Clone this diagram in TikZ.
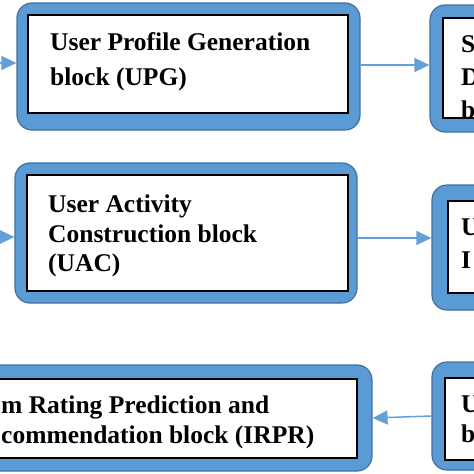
\documentclass[tikz,border=0pt]{standalone}
\usepackage{fontspec}
\setmainfont{Liberation Serif}
\usetikzlibrary{arrows.meta}
\definecolor{blockBlue}{RGB}{91,155,213}
\definecolor{blockEdge}{RGB}{65,113,156}
\definecolor{arrowBlue}{RGB}{100,160,215}
\tikzstyle{outerBlock}=[shape = rectangle, rounded corners = 15pt, draw = blockEdge, line width = 1.2pt, fill = blockBlue, inner sep = 0pt]
\tikzstyle{innerBlock}=[shape = rectangle, draw = black, line width = 1.4pt, fill = white, inner sep = 0pt]
\tikzstyle{blockText}=[anchor = west, inner sep = 0pt, align = left, font = \bfseries\fontsize{25.5}{35}\selectfont]
\tikzstyle{flowArrow}=[draw = arrowBlue, line width = 1.5pt, -{Triangle[length = 15pt, width = 14pt, fill = arrowBlue]}]

\begin{document}
\begin{tikzpicture}[x = 1pt, y = -1pt]
\useasboundingbox (0,0) rectangle (474,474);
\clip (0,0) rectangle (474,474);
% outer frames
\node[outerBlock, minimum width = 343pt, minimum height = 127pt] (upgOuter) at (188.5,66.5) {};
\node[outerBlock, minimum width = 270pt, minimum height = 127pt] (sdbOuter) at (565,68.5) {};
\node[outerBlock, minimum width = 342pt, minimum height = 140pt] (uacOuter) at (186,233) {};
\node[outerBlock, minimum width = 268pt, minimum height = 125pt] (uiOuter) at (566,247.5) {};
\node[outerBlock, minimum width = 412pt, minimum height = 106pt] (irprOuter) at (166,418) {};
\node[outerBlock, minimum width = 268pt, minimum height = 108pt] (ubOuter) at (566,416) {};
% inner boxes
\node[innerBlock, minimum width = 320pt, minimum height = 98pt] (upg) at (188,64) {};
\node[innerBlock, minimum width = 257pt, minimum height = 100pt] (sdb) at (571.5,68) {};
\node[innerBlock, minimum width = 321pt, minimum height = 116pt] (uac) at (187.5,233) {};
\node[innerBlock, minimum width = 252pt, minimum height = 92pt] (ui) at (574,247) {};
\node[innerBlock, minimum width = 385pt, minimum height = 79pt] (irpr) at (164.5,418.5) {};
\node[innerBlock, minimum width = 255pt, minimum height = 82pt] (ub) at (572.5,419) {};
% texts
\node[blockText] (upgText) at (50,61.5) {User Profile Generation\\block (UPG)};
\node[blockText, font = \bfseries\fontsize{25.5}{33}\selectfont] (sdbText) at (461,77) {S\\D\\b};
\node[blockText, font = \bfseries\fontsize{25.5}{29.5}\selectfont] (uacText) at (48,236) {User Activity\\Construction block\\(UAC)};
\node[blockText, font = \bfseries\fontsize{25.5}{33}\selectfont] (uiText) at (461,243.5) {U\\I};
\node[blockText, font = \bfseries\fontsize{25.5}{30}\selectfont] (irprText) at (1,422) {m Rating Prediction and\\commendation block (IRPR)};
\node[blockText, font = \bfseries\fontsize{25.5}{30}\selectfont] (ubText) at (461,419) {U\\b};
% connectors
\coordinate (upgIn) at (-20,63);
\coordinate (uacIn) at (-20,237);
\draw[flowArrow] (upgIn) -- (upgIn -| upgOuter.west);
\draw[flowArrow] (uacIn) -- (uacIn -| uacOuter.west);
\draw[flowArrow] ([yshift = 1.5pt]upgOuter.east) -- ([yshift = 1.5pt]upgOuter.east -| sdbOuter.west);
\draw[flowArrow] ([yshift = -5pt]uacOuter.east) -- ([yshift = -5pt]uacOuter.east -| uiOuter.west);
\draw[flowArrow] (ubOuter.west) -- (irprOuter.east);
\end{tikzpicture}
\end{document}
